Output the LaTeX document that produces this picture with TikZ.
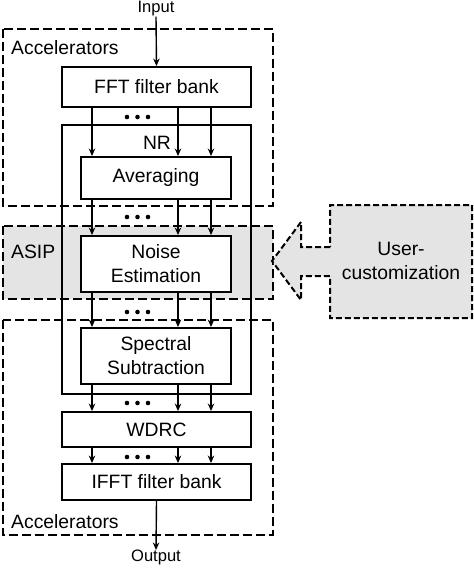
\documentclass[tikz,border=0pt]{standalone}
\usepackage{fontspec}
\setmainfont{Liberation Sans}
\usetikzlibrary{arrows.meta}
\definecolor{bandgray}{HTML}{E4E4E4}
\tikzset{
  blk/.style={draw=black, line width=1.9bp, fill=white, inner sep=0pt, align=center,
    font=\fontsize{19.4}{24}\selectfont},
  dsh/.style={draw=black, line width=1.6bp, dash pattern=on 9bp off 4bp},
  udsh/.style={draw=black, line width=2bp, dash pattern=on 6bp off 3bp},
  arr/.style={line width=1.4bp, -{Stealth[length=7.5bp,width=6.5bp]}},
  lbl/.style={inner sep=0pt, font=\fontsize{19.4}{24}\selectfont},
  io/.style={inner sep=0pt, font=\fontsize{16.6}{20}\selectfont},
}
\begin{document}
\begin{tikzpicture}[x=1bp,y=-1bp]
\useasboundingbox (0,0) rectangle (474,569);
% regions
\fill[bandgray] (3,226) rectangle (273,299);
\draw[dsh] (3,29) rectangle (273,206);
\draw[dsh] (3,226) rectangle (273,299);
\draw[dsh] (3,320) rectangle (273,535);
\node[lbl, anchor=west] (accTop) at (11,48) {Accelerators};
\node[lbl, anchor=west] (asip) at (11,252) {ASIP};
\node[lbl, anchor=west] (accBot) at (11,522) {Accelerators};
% user customization
\draw[udsh, fill=bandgray] (330,247) -- (301,247) -- (301,222) -- (272,261) -- (301,300)
  -- (301,276) -- (330,276) -- (330,318) -- (472,318) -- (472,205) -- (330,205) -- cycle;
\node[lbl, align=center] (user) at (401,261) {User-\\customization};
% NR box
\node[draw=black, line width=1.9bp, minimum width=189bp, minimum height=269bp, inner sep=0pt] (nr) at (156.5,259.5) {};
\node[lbl] (nrl) at (157,143) {NR};
% blocks
\node[blk, minimum width=189bp, minimum height=40bp] (fft) at (156.5,87) {FFT filter bank};
\node[blk, minimum width=150bp, minimum height=42bp] (avg) at (156,178) {Averaging};
\node[blk, minimum width=150bp, minimum height=56bp] (noise) at (156,264) {Noise\\Estimation};
\node[blk, minimum width=150bp, minimum height=56bp] (spec) at (156,356) {Spectral\\Subtraction};
\node[blk, minimum width=189bp, minimum height=35bp] (wdrc) at (156.5,429.5) {WDRC};
\node[blk, minimum width=189bp, minimum height=36bp] (ifft) at (156.5,482) {IFFT filter bank};
% io
\node[io] (in) at (156,9) {Input};
\node[io, anchor=north] (out) at (156,550) {Output};
\draw[arr] (in.south) -- (fft.north);
\draw[arr] (ifft.south) -- (out.north);
% arrow columns
\coordinate (c1) at (92,0);
\coordinate (c2) at (178,0);
\coordinate (c3) at (211,0);
\foreach \c in {c1,c2,c3}{
  \draw[arr] (\c |- fft.south) -- (\c |- avg.north);
  \draw[arr] (\c |- avg.south) -- (\c |- noise.north);
  \draw[arr] (\c |- noise.south) -- (\c |- spec.north);
  \draw[arr] (\c |- spec.south) -- (\c |- wdrc.north);
  \draw[arr] (\c |- wdrc.south) -- (\c |- ifft.north);
}
% dots
\foreach \y in {117,217,312,403,457}{
  \foreach \x in {127,137.5,148}{
    \fill (\x,\y) circle (2.3bp);
  }
}
\end{tikzpicture}
\end{document}
